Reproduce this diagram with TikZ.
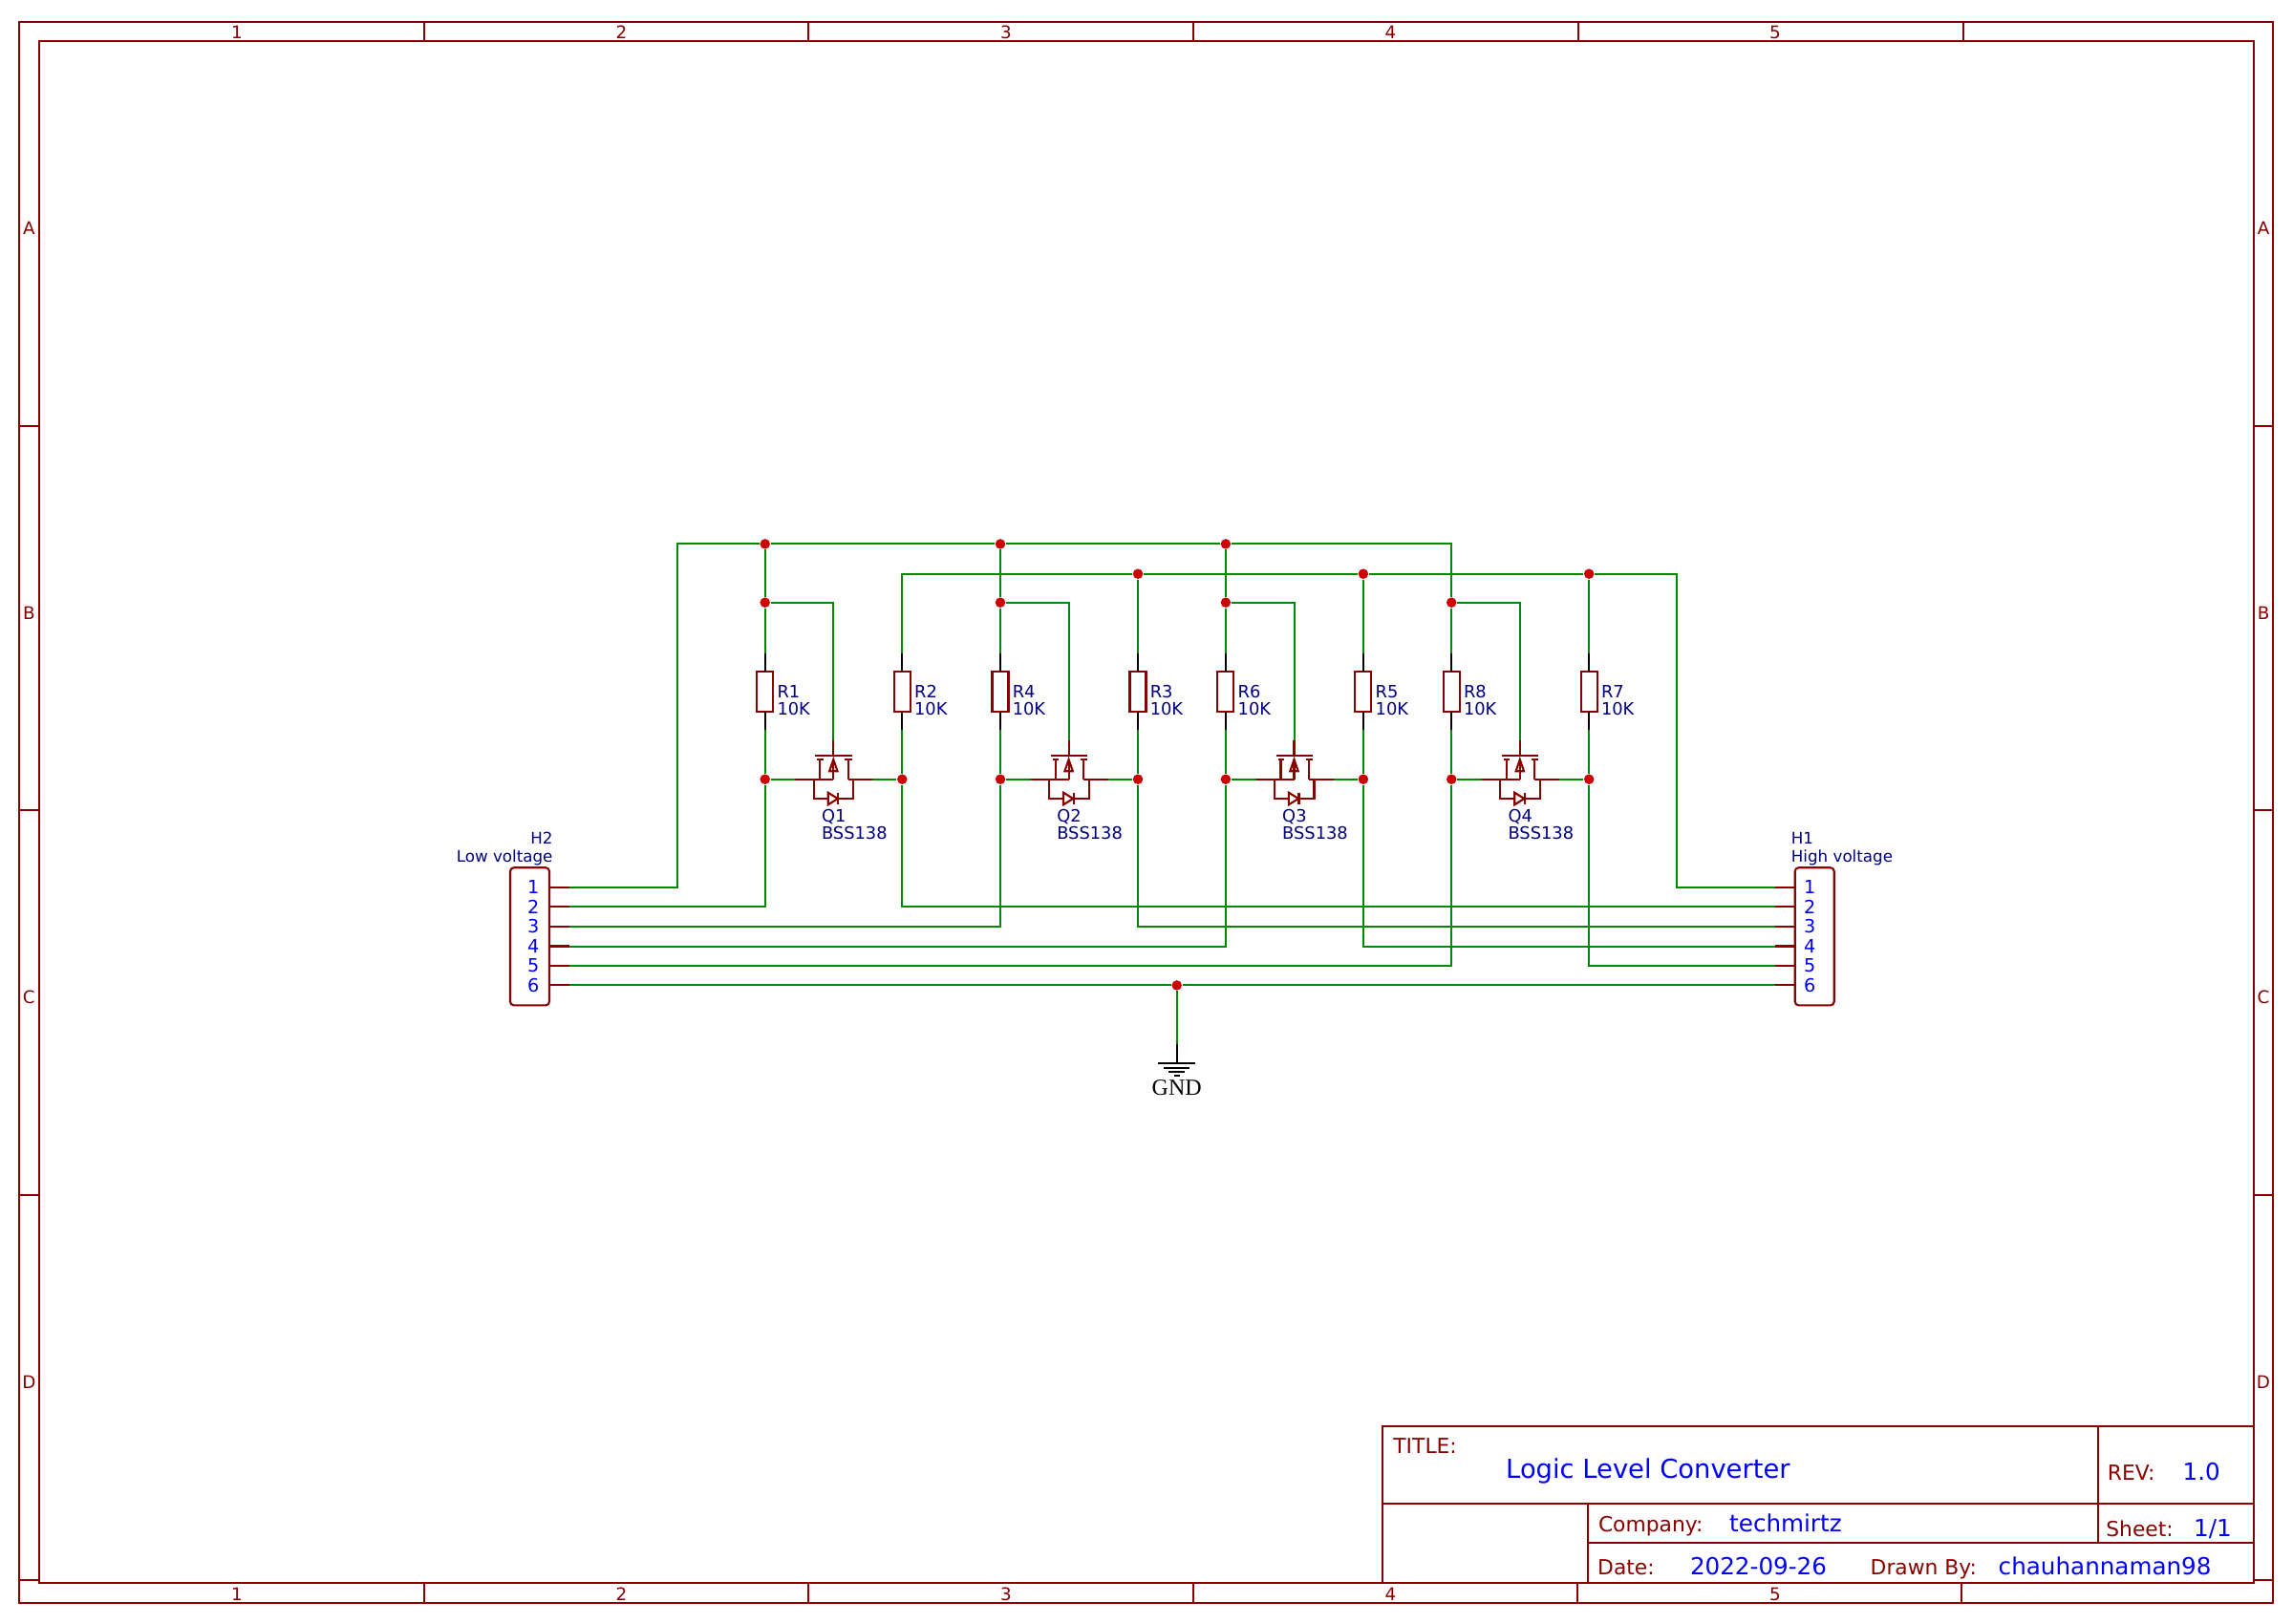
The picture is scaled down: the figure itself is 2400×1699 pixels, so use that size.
\documentclass[tikz,border=0pt]{standalone}
\usepackage{fontspec}
\setmainfont{DejaVu Sans}
\newfontfamily\gndfont{Liberation Serif}
\usepackage{tikz}
\definecolor{partred}{HTML}{880000}
\definecolor{wiregreen}{HTML}{008800}
\definecolor{dotred}{HTML}{CC0000}
\definecolor{refblue}{HTML}{000080}
\definecolor{valblue}{HTML}{0000FF}
\tikzset{
  wire/.style={draw=wiregreen,line width=0.57pt,line join=miter},
  part/.style={draw=partred,line width=0.6pt},
  pinblack/.style={draw=black,line width=0.6pt},
  frameline/.style={draw=partred,line width=0.57pt},
  blockline/.style={draw=partred,line width=0.66pt},
  juncdot/.style={circle,fill=dotred,inner sep=0pt,minimum size=0.105cm},
  hdrbox/.style={draw=partred,line width=0.6pt,rounded corners=1.1pt,inner sep=0pt,minimum width=0.41cm,minimum height=1.44cm},
  pinnum/.style={text=valblue,inner sep=0pt,font=\fontsize{5.45}{6}\selectfont},
  hdrref/.style={text=refblue,inner sep=0pt,font=\fontsize{4.75}{5}\selectfont},
  partref/.style={text=refblue,inner sep=0pt,anchor=base west,font=\fontsize{5.07}{5}\selectfont},
  sheetnum/.style={text=partred,inner sep=0pt,anchor=base,font=\fontsize{5.2}{6}\selectfont},
  blocklab/.style={text=partred,inner sep=0pt,anchor=base west,font=\fontsize{6.2}{7}\selectfont},
  blockval/.style={text=valblue,inner sep=0pt,anchor=base west,font=\fontsize{7}{8}\selectfont},
  resistor/.pic={
    \draw[part] (-8.5,-21) rectangle (8.5,21);
    \coordinate (-top) at (0,-40);
    \coordinate (-bot) at (0,40);
    \draw[pinblack] (-top) -- (0,-21);
    \draw[pinblack] (-bot) -- (0,21);
    \node[partref] (-ref) at (12.1,6.7) {#1};
    \node[partref] (-val) at (12.1,24.7) {10K};
  },
  mosfet/.pic={
    \coordinate (-gate) at (0,-40.7);
    \coordinate (-src) at (-40,0);
    \coordinate (-drn) at (41,0);
    \draw[part] (-gate) -- (0,-24.7);
    \draw[part] (-19,-24.7) -- (19.4,-24.7);
    \draw[part] (-17,-20.7) -- (-10.7,-20.7);
    \draw[part] (12,-20.7) -- (19.4,-20.7);
    \draw[part] (-14,-20.7) -- (-14,0);
    \draw[part] (15.4,-20.7) -- (15.4,0);
    \draw[part] (0,-20.7) -- (0,0);
    \draw[part] (-4.2,-8.5) -- (4.2,-8.5) -- (0,-20.7) -- cycle;
    \draw[part] (-src) -- (0,0);
    \draw[part] (15.4,0) -- (-drn);
    \draw[part] (-20.6,0) -- (-20.6,20.3) -- (21,20.3) -- (21,0);
    \draw[part,fill=white] (-5.6,14) -- (-5.6,26.6) -- (4.6,20.3) -- cycle;
    \draw[part] (5,14) -- (5,26.6);
    \node[partref] (-ref) at (-13,44.3) {#1};
    \node[partref] (-val) at (-13,62.3) {BSS138};
  }
}

\begin{document}
\begin{tikzpicture}[x=0.01cm,y=-0.01cm]
  \useasboundingbox (0,0) rectangle (2400,1699);

  %sheet frame
  \draw[frameline] (20.4,23) rectangle (2379.3,1677.7);
  \draw[frameline] (41.2,43.3) rectangle (2358.7,1657.3);

  %column ticks
  \draw[frameline] (443.7,23) -- (443.7,43.3);
  \draw[frameline] (846.4,23) -- (846.4,43.3);
  \draw[frameline] (1249,23) -- (1249,43.3);
  \draw[frameline] (1651.8,23) -- (1651.8,43.3);
  \draw[frameline] (2054.5,23) -- (2054.5,43.3);
  \draw[frameline] (443.7,1657.3) -- (443.7,1677.7);
  \draw[frameline] (846.4,1657.3) -- (846.4,1677.7);
  \draw[frameline] (1249,1657.3) -- (1249,1677.7);
  \draw[frameline] (1651,1657.3) -- (1651,1677.7);
  \draw[frameline] (2053,1657.3) -- (2053,1677.7);

  %row ticks
  \draw[frameline] (20.4,445.7) -- (41.2,445.7);
  \draw[frameline] (20.4,848.4) -- (41.2,848.4);
  \draw[frameline] (20.4,1251) -- (41.2,1251);
  \draw[frameline] (20.4,1653.5) -- (41.2,1653.5);
  \draw[frameline] (2358.7,445.7) -- (2379.3,445.7);
  \draw[frameline] (2358.7,848.4) -- (2379.3,848.4);
  \draw[frameline] (2358.7,1251) -- (2379.3,1251);
  \draw[frameline] (2358.7,1653.5) -- (2379.3,1653.5);

  \node[sheetnum] (top1) at (248,40.7) {1};
  \node[sheetnum] (top2) at (650.5,40.7) {2};
  \node[sheetnum] (top3) at (1053,40.7) {3};
  \node[sheetnum] (top4) at (1455.5,40.7) {4};
  \node[sheetnum] (top5) at (1858,40.7) {5};
  \node[sheetnum] (bot1) at (248,1675) {1};
  \node[sheetnum] (bot2) at (650.5,1675) {2};
  \node[sheetnum] (bot3) at (1053,1675) {3};
  \node[sheetnum] (bot4) at (1455.5,1675) {4};
  \node[sheetnum] (bot5) at (1858,1675) {5};
  \node[sheetnum] (leftA) at (30.3,245) {A};
  \node[sheetnum] (leftB) at (30.3,648) {B};
  \node[sheetnum] (leftC) at (30.3,1050.5) {C};
  \node[sheetnum] (leftD) at (30.3,1453) {D};
  \node[sheetnum] (rightA) at (2369,245) {A};
  \node[sheetnum] (rightB) at (2369,648) {B};
  \node[sheetnum] (rightC) at (2369,1050.5) {C};
  \node[sheetnum] (rightD) at (2369,1453) {D};

  %title block
  \draw[blockline] (1447,1493.3) rectangle (2358.7,1657.3);
  \draw[blockline] (1447,1573.7) -- (2358.7,1573.7);
  \draw[blockline] (1662,1615) -- (2358.7,1615);
  \draw[blockline] (1662,1573.7) -- (1662,1657.3);
  \draw[blockline] (2196,1493.3) -- (2196,1615);

  \node[blocklab] (titlelab) at (1457.7,1521) {TITLE:};
  \node[blockval,font=\fontsize{7.78}{9}\selectfont] (titleval) at (1575.5,1547) {Logic Level Converter};
  \node[blocklab] (revlab) at (2205.2,1549) {REV:};
  \node[blockval] (revval) at (2284,1549) {1.0};
  \node[blocklab] (complab) at (1672.3,1603.5) {Company:};
  \node[blockval] (compval) at (1809.5,1603.5) {techmirtz};
  \node[blocklab] (sheetlab) at (2203.6,1608) {Sheet:};
  \node[blockval] (sheetval) at (2295.5,1608) {1/1};
  \node[blocklab] (datelab) at (1671.5,1648) {Date:};
  \node[blockval] (dateval) at (1768.3,1648) {2022-09-26};
  \node[blocklab] (bylab) at (1957,1648) {Drawn By:};
  \node[blockval] (byval) at (2091,1648) {chauhannaman98};

  %header H2
  \node[hdrbox] (h2) at (554.5,980.3) {};
  \node[hdrref,anchor=base east] (h2ref) at (579.2,883.3) {H2};
  \node[hdrref,anchor=base east] (h2val) at (579.2,902.2) {Low voltage};
  \coordinate (h2p1) at (595.7,928.8);
  \coordinate (h2p2) at (595.7,949.4);
  \coordinate (h2p3) at (595.7,970);
  \coordinate (h2p4) at (595.7,990.5);
  \coordinate (h2p5) at (595.7,1011);
  \coordinate (h2p6) at (595.7,1031.4);
  \draw[part] (h2p1) -- (h2p1 -| h2.east);
  \draw[part] (h2p2) -- (h2p2 -| h2.east);
  \draw[part] (h2p3) -- (h2p3 -| h2.east);
  \draw[part] (h2p4) -- (h2p4 -| h2.east);
  \draw[part] (h2p5) -- (h2p5 -| h2.east);
  \draw[part] (h2p6) -- (h2p6 -| h2.east);
  \node[pinnum] (h2n1) at (558.3,928.8) {1};
  \node[pinnum] (h2n2) at (558.3,949.4) {2};
  \node[pinnum] (h2n3) at (558.3,970) {3};
  \node[pinnum] (h2n4) at (558.3,990.5) {4};
  \node[pinnum] (h2n5) at (558.3,1011) {5};
  \node[pinnum] (h2n6) at (558.3,1031.4) {6};

  %header H1
  \node[hdrbox] (h1) at (1899.2,980.3) {};
  \node[hdrref,anchor=base west] (h1ref) at (1874.2,883.3) {H1};
  \node[hdrref,anchor=base west] (h1val) at (1874.2,902.2) {High voltage};
  \coordinate (h1p1) at (1858.3,928.8);
  \coordinate (h1p2) at (1858.3,949.4);
  \coordinate (h1p3) at (1858.3,970);
  \coordinate (h1p4) at (1858.3,990.5);
  \coordinate (h1p5) at (1858.3,1011);
  \coordinate (h1p6) at (1858.3,1031.4);
  \draw[part] (h1p1) -- (h1p1 -| h1.west);
  \draw[part] (h1p2) -- (h1p2 -| h1.west);
  \draw[part] (h1p3) -- (h1p3 -| h1.west);
  \draw[part] (h1p4) -- (h1p4 -| h1.west);
  \draw[part] (h1p5) -- (h1p5 -| h1.west);
  \draw[part] (h1p6) -- (h1p6 -| h1.west);
  \node[pinnum] (h1n1) at (1894.3,928.8) {1};
  \node[pinnum] (h1n2) at (1894.3,949.4) {2};
  \node[pinnum] (h1n3) at (1894.3,970) {3};
  \node[pinnum] (h1n4) at (1894.3,990.5) {4};
  \node[pinnum] (h1n5) at (1894.3,1011) {5};
  \node[pinnum] (h1n6) at (1894.3,1031.4) {6};

  %resistors and mosfets
  \pic (r1) at (800.7,723.6) {resistor={R1}};
  \pic (r2) at (944.3,723.6) {resistor={R2}};
  \pic (r4) at (1047,723.6) {resistor={R4}};
  \pic (r3) at (1191,723.6) {resistor={R3}};
  \pic (r6) at (1282.9,723.6) {resistor={R6}};
  \pic (r5) at (1426.9,723.6) {resistor={R5}};
  \pic (r8) at (1519.2,723.6) {resistor={R8}};
  \pic (r7) at (1663.2,723.6) {resistor={R7}};
  \pic (q1) at (872.3,815.7) {mosfet={Q1}};
  \pic (q2) at (1118.6,815.7) {mosfet={Q2}};
  \pic (q3) at (1354.5,815.7) {mosfet={Q3}};
  \pic (q4) at (1590.8,815.7) {mosfet={Q4}};

  %junctions
  \node[juncdot] (jl1) at (800.7,569.4) {};
  \node[juncdot] (jl2) at (1047,569.4) {};
  \node[juncdot] (jl3) at (1282.9,569.4) {};
  \node[juncdot] (jh2) at (1191,600.7) {};
  \node[juncdot] (jh3) at (1426.9,600.7) {};
  \node[juncdot] (jh4) at (1663.2,600.7) {};
  \node[juncdot] (jg1) at (800.7,630.7) {};
  \node[juncdot] (jg2) at (1047,630.7) {};
  \node[juncdot] (jg3) at (1282.9,630.7) {};
  \node[juncdot] (jg4) at (1519.2,630.7) {};
  \node[juncdot] (js1) at (800.7,815.7) {};
  \node[juncdot] (jd1) at (944.3,815.7) {};
  \node[juncdot] (js2) at (1047,815.7) {};
  \node[juncdot] (jd2) at (1191,815.7) {};
  \node[juncdot] (js3) at (1282.9,815.7) {};
  \node[juncdot] (jd3) at (1426.9,815.7) {};
  \node[juncdot] (js4) at (1519.2,815.7) {};
  \node[juncdot] (jd4) at (1663.2,815.7) {};
  \node[juncdot] (jgnd) at (1231.7,1031.4) {};

  %low voltage rail
  \coordinate (ltl) at (708.7,569.4);
  \coordinate (ltr) at (1519.2,569.4);
  \draw[wire] (h2p1) -| (ltl) -- (jl1) -- (jl2) -- (jl3) -- (ltr) -- (jg4);
  \draw[wire] (jl1) -- (jg1);
  \draw[wire] (jl2) -- (jg2);
  \draw[wire] (jl3) -- (jg3);

  %high voltage rail
  \coordinate (htl) at (944.3,600.7);
  \coordinate (htr) at (1755,600.7);
  \draw[wire] (r2-top) -- (htl) -- (jh2) -- (jh3) -- (jh4) -- (htr) |- (h1p1);
  \draw[wire] (jh2) -- (r3-top);
  \draw[wire] (jh3) -- (r5-top);
  \draw[wire] (jh4) -- (r7-top);

  %channel 1
  \draw[wire] (jg1) -- (r1-top);
  \draw[wire] (jg1) -| (q1-gate);
  \draw[wire] (r1-bot) -- (js1);
  \draw[wire] (r2-bot) -- (jd1);
  \draw[wire] (js1) -- (q1-src);
  \draw[wire] (q1-drn) -- (jd1);
  \draw[wire] (h2p2) -| (js1);
  \draw[wire] (h1p2) -| (jd1);

  %channel 2
  \draw[wire] (jg2) -- (r4-top);
  \draw[wire] (jg2) -| (q2-gate);
  \draw[wire] (r4-bot) -- (js2);
  \draw[wire] (r3-bot) -- (jd2);
  \draw[wire] (js2) -- (q2-src);
  \draw[wire] (q2-drn) -- (jd2);
  \draw[wire] (h2p3) -| (js2);
  \draw[wire] (h1p3) -| (jd2);

  %channel 3
  \draw[wire] (jg3) -- (r6-top);
  \draw[wire] (jg3) -| (q3-gate);
  \draw[wire] (r6-bot) -- (js3);
  \draw[wire] (r5-bot) -- (jd3);
  \draw[wire] (js3) -- (q3-src);
  \draw[wire] (q3-drn) -- (jd3);
  \draw[wire] (h2p4) -| (js3);
  \draw[wire] (h1p4) -| (jd3);

  %channel 4
  \draw[wire] (jg4) -- (r8-top);
  \draw[wire] (jg4) -| (q4-gate);
  \draw[wire] (r8-bot) -- (js4);
  \draw[wire] (r7-bot) -- (jd4);
  \draw[wire] (js4) -- (q4-src);
  \draw[wire] (q4-drn) -- (jd4);
  \draw[wire] (h2p5) -| (js4);
  \draw[wire] (h1p5) -| (jd4);

  %ground
  \coordinate (gndtop) at (1231.7,1093.3);
  \coordinate (gndbar) at (1231.7,1113.3);
  \draw[wire] (h2p6) -- (jgnd);
  \draw[wire] (jgnd) -- (h1p6);
  \draw[wire] (jgnd) -- (gndtop);
  \draw[pinblack] (gndtop) -- (gndbar);
  \draw[pinblack] (1212,1113.3) -- (1251,1113.3);
  \draw[pinblack] (1218,1117.7) -- (1245,1117.7);
  \draw[pinblack] (1223,1121.7) -- (1240,1121.7);
  \draw[pinblack] (1229,1125.7) -- (1235,1125.7);
  \node[inner sep=0pt,anchor=base,font=\gndfont\fontsize{6.83}{8}\selectfont] (gndlab) at (1231.7,1146) {GND};
\end{tikzpicture}
\end{document}
